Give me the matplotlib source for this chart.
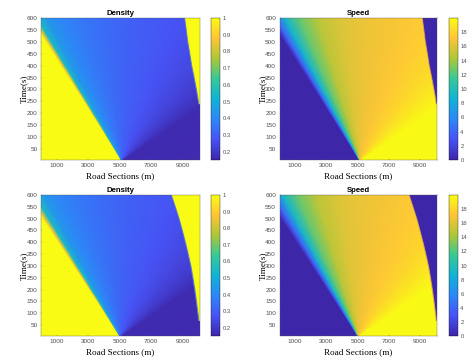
import numpy as np
import matplotlib
matplotlib.use("Agg")
import matplotlib.pyplot as plt
from matplotlib.colors import LinearSegmentedColormap

parula_colors = [(0.2422, 0.1504, 0.6603), (0.2810, 0.3228, 0.9579),
                 (0.1786, 0.5289, 0.9682), (0.0689, 0.6948, 0.8394),
                 (0.2161, 0.7843, 0.5923), (0.6720, 0.7793, 0.2227),
                 (0.9970, 0.7659, 0.2199), (0.9769, 0.9839, 0.0805)]
parula = LinearSegmentedColormap.from_list("parula", parula_colors)

times = [0, 100, 200, 300, 400, 500, 600]

# levels read along the fan, left to right
density_levels = [1, 1, 0.85, 0.55, 0.44, 0.395, 0.36, 0.33, 0.305, 0.275, 0.235, 0.195, 0.165, 0.16]
speed_levels = [0, 0, 1.5, 4, 9, 12.5, 14.8, 16, 16.6, 17.4, 18.4, 19.4, 19.9, 19.9]

# x position of every level at every time, one row per time
top_x = [
    [-2000, 5150, 5150, 5150, 5150, 5150, 5150, 5150, 5150, 5150, 5150, 5150, 5150, 20000],
    [-2000, 4180, 4210, 4250, 4350, 4500, 4700, 4950, 5250, 5750, 6350, 6950, 7350, 20000],
    [-2000, 3210, 3270, 3350, 3550, 3850, 4250, 4750, 5350, 6350, 7550, 8750, 9550, 20000],
    [-2000, 2240, 2330, 2450, 2750, 3200, 3800, 4550, 5450, 6950, 8750, 10550, 11750, 20000],
    [-2000, 1270, 1390, 1550, 1950, 2550, 3350, 4350, 5550, 7550, 9950, 12350, 13950, 20000],
    [-2000, 300, 450, 650, 1150, 1900, 2900, 4150, 5650, 8150, 11150, 14150, 16150, 20000],
    [-2000, -670, -490, -250, 350, 1250, 2450, 3950, 5750, 8750, 12350, 15950, 18350, 20000],
]
bottom_x = [
    [-2000, 5050, 5050, 5050, 5050, 5050, 5050, 5050, 5050, 5050, 5050, 5050, 5050, 20000],
    [-2000, 4060, 4090, 4140, 4240, 4390, 4590, 4840, 5150, 5650, 6250, 6850, 7250, 20000],
    [-2000, 3070, 3130, 3230, 3430, 3730, 4130, 4630, 5250, 6250, 7450, 8650, 9450, 20000],
    [-2000, 2080, 2170, 2320, 2620, 3070, 3670, 4420, 5350, 6850, 8650, 10450, 11650, 20000],
    [-2000, 1090, 1210, 1410, 1810, 2410, 3210, 4210, 5450, 7450, 9850, 12250, 13850, 20000],
    [-2000, 100, 250, 500, 1000, 1750, 2750, 4000, 5550, 8050, 11050, 14050, 16050, 20000],
    [-2000, -890, -710, -410, 190, 1090, 2290, 3790, 5650, 8650, 12250, 15850, 18250, 20000],
]

# right hand edge of the jam
top_edge_t = [240, 300, 400, 500, 600]
top_edge_x = [10100, 9950, 9650, 9400, 9200]
bottom_edge_t = [70, 100, 200, 300, 400, 500, 600]
bottom_edge_x = [10100, 10050, 9850, 9600, 9250, 8850, 8360]

xticks = [1000, 3000, 5000, 7000, 9000]
yticks = [50, 100, 150, 200, 250, 300, 350, 400, 450, 500, 550, 600]
density_ticks = [0.2, 0.3, 0.4, 0.5, 0.6, 0.7, 0.8, 0.9, 1]
density_labels = ["0.2", "0.3", "0.4", "0.5", "0.6", "0.7", "0.8", "0.9", "1"]
speed_ticks = [0, 2, 4, 6, 8, 10, 12, 14, 16, 18]

W, H = 474.0, 364.0
GRAY = "#505050"


def px_box(left, top, right, bottom):
    return [left / W, 1 - bottom / H, (right - left) / W, (bottom - top) / H]


def draw_panel(fig, box, cbox, title, x_grid, levels, edge_t, edge_x,
               edge_levels, vmin, vmax, cticks, clabels):
    ax = fig.add_axes(px_box(*box))
    X = np.array(x_grid, dtype=float)
    T = np.array(times, dtype=float)
    T = np.repeat(T[:, None], X.shape[1], axis=1)
    C = np.tile(np.array(levels, dtype=float), (X.shape[0], 1))
    mesh = ax.pcolormesh(X, T, C, shading="gouraud", cmap=parula, vmin=vmin, vmax=vmax)

    # jam coming back from the right edge
    ex = np.array(edge_x, dtype=float)
    et = np.array(edge_t, dtype=float)
    EX = np.column_stack([ex - 90, ex, ex + 3000])
    ET = np.column_stack([et, et, et])
    EC = np.tile(np.array(edge_levels, dtype=float), (len(ex), 1))
    ax.pcolormesh(EX, ET, EC, shading="gouraud", cmap=parula, vmin=vmin, vmax=vmax)

    ax.set_xlim(0, 10100)
    ax.set_ylim(4, 600)
    ax.set_xticks(xticks)
    ax.set_yticks(yticks)
    ax.tick_params(labelsize=4.6, length=1.0, width=0.25, direction="in",
                   pad=2.5, colors=GRAY)
    for s in ax.spines.values():
        s.set_linewidth(0.25)
        s.set_color(GRAY)
    ax.set_title(title, fontsize=5.6, fontweight="bold", pad=2.2,
                 family="Liberation Sans")
    ax.set_xlabel("Road Sections (m)", family="Liberation Serif", fontsize=6.6, labelpad=3)
    ax.set_ylabel("Time(s)", family="Liberation Serif", fontsize=6.6, labelpad=-1)
    for lab in ax.get_xticklabels() + ax.get_yticklabels():
        lab.set_family("Liberation Sans")

    cax = fig.add_axes(px_box(*cbox))
    cb = fig.colorbar(mesh, cax=cax)
    cb.set_ticks(cticks)
    cb.set_ticklabels(clabels)
    cb.ax.tick_params(labelsize=4.2, length=0, pad=2, colors=GRAY)
    cb.outline.set_linewidth(0.25)
    for lab in cb.ax.get_yticklabels():
        lab.set_family("Liberation Sans")
    return ax


fig = plt.figure(figsize=(4.74, 3.64), dpi=100)

density_edge = [0.30, 1, 1]
speed_edge = [17, 0, 0]
speed_labels = [str(v) for v in speed_ticks]

draw_panel(fig, (41, 18, 200, 160), (210.5, 18, 219.5, 160), "Density", top_x,
           density_levels, top_edge_t, top_edge_x, density_edge, 0.15, 1,
           density_ticks, density_labels)
draw_panel(fig, (279.5, 18, 437.5, 160), (448.5, 18, 457.5, 160), "Speed", top_x,
           speed_levels, top_edge_t, top_edge_x, speed_edge, 0, 20,
           speed_ticks, speed_labels)
draw_panel(fig, (41, 195, 200, 336), (210.5, 195, 219.5, 336), "Density", bottom_x,
           density_levels, bottom_edge_t, bottom_edge_x, density_edge, 0.15, 1,
           density_ticks, density_labels)
draw_panel(fig, (279.5, 195, 437.5, 336), (448.5, 195, 457.5, 336), "Speed", bottom_x,
           speed_levels, bottom_edge_t, bottom_edge_x, speed_edge, 0, 20,
           speed_ticks, speed_labels)

fig.savefig("out.png", dpi=100)
